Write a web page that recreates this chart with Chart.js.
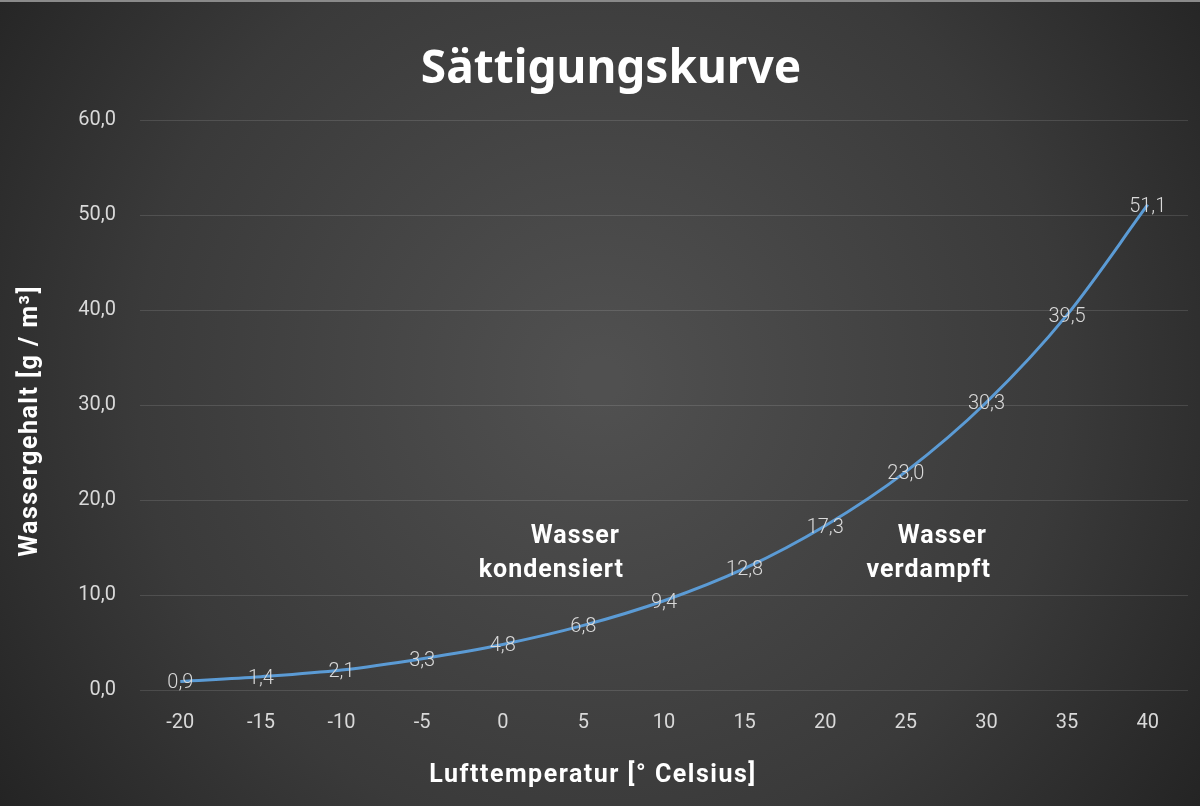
<!DOCTYPE html>
<html>
<head>
<meta charset="utf-8">
<script src="https://cdn.jsdelivr.net/npm/chart.js@4"></script>
<style>
  html, body { margin: 0; padding: 0; background: #2a2a2a; }
  #wrap { width: 1200px; height: 806px; position: relative; }
</style>
</head>
<body>
<div id="wrap"><canvas id="saturationChart"></canvas></div>
<script>
const temperatures = ["-20", "-15", "-10", "-5", "0", "5", "10", "15", "20", "25", "30", "35", "40"];
const waterContent = [0.9, 1.4, 2.1, 3.3, 4.8, 6.8, 9.4, 12.8, 17.3, 23.0, 30.3, 39.5, 51.1];
const yTicks = [0, 10, 20, 30, 40, 50, 60];

const fmt = (v) => v.toFixed(1).replace(".", ",");

const ctx = document.getElementById("saturationChart").getContext("2d");

// background gradient, data labels, axis titles and the two notes
const decorations = {
  id: "decorations",
  beforeDraw(chart) {
    const c = chart.ctx;
    const g = c.createRadialGradient(600, 380, 20, 600, 380, 760);
    g.addColorStop(0, "#505050");
    g.addColorStop(0.6, "#3a3a3a");
    g.addColorStop(1, "#222222");
    c.save();
    c.fillStyle = g;
    c.fillRect(0, 0, chart.width, chart.height);
    c.fillStyle = "#8a8a8a";
    c.fillRect(0, 0, chart.width, 2);
    c.restore();
  },
  afterDatasetsDraw(chart) {
    const c = chart.ctx;
    const meta = chart.getDatasetMeta(0);
    c.save();
    c.font = "300 20px Roboto";
    c.fillStyle = "#d9d9d9";
    c.textAlign = "center";
    c.textBaseline = "middle";
    meta.data.forEach((pt, i) => {
      c.fillText(fmt(waterContent[i]), pt.x, pt.y + 2);
    });

    c.fillStyle = "#ffffff";
    c.font = "bold 25px Roboto";
    c.letterSpacing = "1px";
    c.textAlign = "right";
    c.fillText("Wasser", 620, 537);
    c.fillText("kondensiert", 624, 571);
    c.fillText("Wasser", 987, 537);
    c.fillText("verdampft", 991, 571);

    c.textAlign = "center";
    c.letterSpacing = "1.5px";
    c.fillText("Lufttemperatur [° Celsius]", 593, 776);
    c.translate(31, 421);
    c.rotate(-Math.PI / 2);
    c.fillText("Wassergehalt [g / m³]", 0, 0);
    c.restore();
  },
};

new Chart(ctx, {
  type: "line",
  data: {
    labels: temperatures,
    datasets: [
      {
        label: "Wassergehalt",
        data: waterContent,
        borderColor: "#5b9bd5",
        borderWidth: 3,
        pointRadius: 0,
        cubicInterpolationMode: "monotone",
        fill: false,
      },
    ],
  },
  options: {
    responsive: true,
    maintainAspectRatio: false,
    animation: false,
    layout: { padding: { left: 34, right: 12, top: 0, bottom: 0 } },
    scales: {
      x: {
        offset: true,
        grid: { display: false, drawTicks: false },
        border: { display: false },
        ticks: { color: "#d9d9d9", font: { family: "Roboto", size: 20 }, padding: 21 },
        afterFit(scale) { scale.height = 116; },
      },
      y: {
        min: 0,
        max: 60,
        afterBuildTicks(scale) { scale.ticks = yTicks.map((v) => ({ value: v })); },
        grid: { color: "rgba(255, 255, 255, 0.12)", drawTicks: false },
        border: { display: false },
        ticks: {
          color: "#d9d9d9",
          font: { family: "Roboto", size: 20 },
          padding: 24,
          callback: (v) => fmt(v),
        },
        afterFit(scale) { scale.width = 106; },
      },
    },
    plugins: {
      legend: { display: false },
      tooltip: { enabled: false },
      title: {
        display: true,
        text: "Sättigungskurve",
        color: "#ffffff",
        font: { family: "Noto Sans", size: 46, weight: "bold", lineHeight: 1.2 },
        padding: { top: 42, bottom: 23 },
      },
    },
  },
  plugins: [decorations],
});
</script>
</body>
</html>
